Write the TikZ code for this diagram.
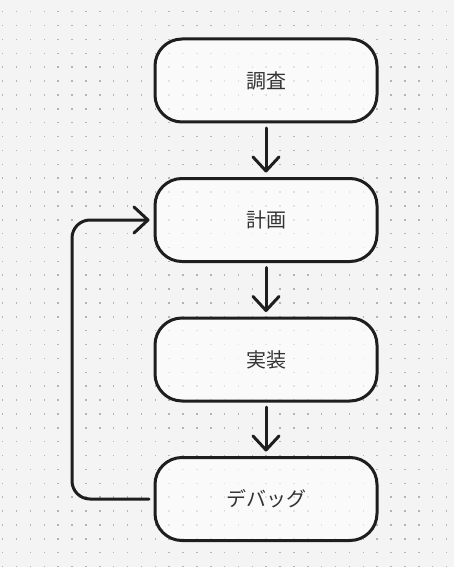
\documentclass[tikz,border=0pt]{standalone}
\usepackage{fontspec}
\newfontfamily\jpfont{Noto Sans CJK JP}
\usetikzlibrary{positioning,arrows.meta}
\definecolor{paper}{HTML}{F4F4F4}
\definecolor{griddot}{HTML}{B4B4B4}
\definecolor{ink}{HTML}{1E1E1E}
\definecolor{label}{HTML}{333333}

\begin{document}
\begin{tikzpicture}[x=1pt,y=-1pt,
  stage/.style={draw=ink, line width=3pt, fill=white, fill opacity=0.6, text opacity=1,
    rounded corners=27pt, minimum width=222pt, minimum height=83pt,
    text=label, font=\jpfont\fontsize{20}{20}\selectfont},
  flow/.style={draw=ink, line width=3pt, line cap=round, line join=round,
    -{Straight Barb[length=14pt,width=26pt,line cap=round,line join=round]}}]
% background and dot grid
\fill[paper] (0,0) rectangle (454,567);
\useasboundingbox (0,0) rectangle (454,567);
\foreach \i in {0,...,32}
  \foreach \j in {0,...,40}
    \fill[griddot] ({2.7+13.87*\i-0.75},{11.7+13.87*\j-0.75}) rectangle +(1.5,1.5);

% the four stages
\node[stage] (survey) at (266,80.5) {調査};
\node[stage, below=53.5pt of survey] (plan) {計画};
\node[stage, below=53.5pt of plan] (build) {実装};
\node[stage, below=53.5pt of build] (debug) {デバッグ};

% arrows down
\draw[flow, shorten <=4.5pt, shorten >=4.5pt] (survey) -- (plan);
\draw[flow, shorten <=4.5pt, shorten >=4.5pt] (plan) -- (build);
\draw[flow, shorten <=4.5pt, shorten >=4.5pt] (build) -- (debug);

% loop back to plan
\coordinate (turn) at (72,0);
\draw[flow, rounded corners=18pt, shorten <=4.5pt, shorten >=4pt]
  (debug.west) -- (debug.west -| turn) -- (plan.west -| turn) -- (plan.west);
\end{tikzpicture}
\end{document}
